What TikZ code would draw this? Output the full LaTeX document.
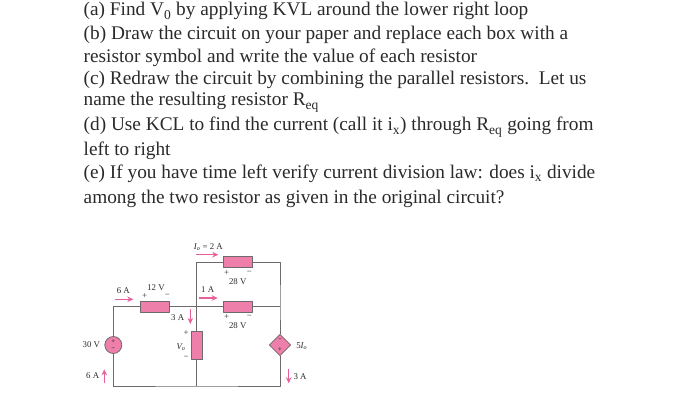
\documentclass[tikz,border=0pt]{standalone}
\usepackage{fontspec}
\setmainfont{Liberation Serif}
\usetikzlibrary{shapes.geometric,arrows.meta}
\definecolor{boxpink}{HTML}{EE7FAA}
\definecolor{arrowpink}{HTML}{E8609A}
\definecolor{wiregray}{HTML}{6E6A6C}
\definecolor{inkgray}{HTML}{2A2A2A}
\newcommand{\lowsub}[1]{\textsubscript{#1}}
\tikzset{
	questline/.style={anchor=base west,inner sep=0pt,text=inkgray,font=\fontsize{19.3}{20}\selectfont},
	resbox/.style={draw=wiregray,fill=boxpink,line width=.8pt,minimum width=29pt,minimum height=11pt,inner sep=0pt},
	resboxv/.style={draw=wiregray,fill=boxpink,line width=.8pt,minimum width=11pt,minimum height=28.5pt,inner sep=0pt},
	wire/.style={draw=wiregray,line width=.7pt},
	curarrow/.style={draw=arrowpink,line width=1.1pt,-{Stealth[length=6pt,width=5.5pt]}},
	lab/.style={inner sep=0pt,text=inkgray,font=\fontsize{8.8}{9}\selectfont},
	srcsign/.style={inner sep=0pt,text=inkgray,font=\fontsize{6.5}{7}\selectfont\bfseries}
}
\begin{document}
\begin{tikzpicture}[x=1pt,y=-1pt,line join=round]
	\useasboundingbox (0,0) rectangle (700,414);
	%% question text
	\node[questline] (qa) at (83.5,16) {(a) Find V\lowsub{0} by applying KVL around the lower right loop};
	\node[questline] (qb) at (83.5,40) {(b) Draw the circuit on your paper and replace each box with a};
	\node[questline] (qbb) at (83.5,63) {resistor symbol and write the value of each resistor};
	\node[questline] (qc) at (83.5,85) {(c) Redraw the circuit by combining the parallel resistors.\ \ Let us};
	\node[questline] (qcc) at (83.5,106) {name the resulting resistor R\lowsub{eq}};
	\node[questline] (qd) at (83.5,131) {(d) Use KCL to find the current (call it i\lowsub{x}) through R\lowsub{eq} going from};
	\node[questline] (qdd) at (83.5,156) {left to right};
	\node[questline] (qe) at (83.5,178) {(e) If you have time left verify current division law: does i\lowsub{x} divide};
	\node[questline] (qee) at (83.5,203) {among the two resistor as given in the original circuit?};
	%% junctions
	\coordinate (tl) at (196.7,262);
	\coordinate (tr) at (280,262);
	\coordinate (ml) at (113.3,306.7);
	\coordinate (mm) at (196.7,306.7);
	\coordinate (mr) at (280,306.7);
	\coordinate (bl) at (113.3,386);
	\coordinate (bm) at (196.7,386);
	\coordinate (br) at (280,386);
	%% elements
	\node[resbox] (Rleft) at (155,306.7) {};
	\node[resbox] (Rtop) at (238.2,262) {};
	\node[resbox] (Rmid) at (238.2,306.7) {};
	\node[resboxv] (Rvo) at (196.7,345.2) {};
	\node[circle,draw=wiregray,fill=boxpink,line width=.8pt,minimum size=17pt,inner sep=0pt] (src) at (113.3,345) {};
	\node[diamond,draw=wiregray,fill=boxpink,line width=.8pt,minimum size=21.5pt,inner sep=0pt] (dep) at (280,345) {};
	%% wires
	\draw[wire] (bl)--(src) (src)--(ml)--(Rleft) (Rleft)--(mm)--(Rmid) (Rmid)--(mr);
	\draw[wire] (tl)--(Rtop) (Rtop)--(tr)--(mr)--(dep) (dep)--(br)--(bm)--(bl);
	\draw[wire] (mm)--(tl) (mm)--(Rvo) (Rvo)--(bm);
	%% signs in sources
	\node[srcsign] (srcp) at (113.3,341.5) {+};
	\node[srcsign] (srcm) at (113.3,349) {−};
	\node[srcsign] (depm) at (280,340.5) {−};
	\node[srcsign] (depp) at (280,349.5) {+};
	%% current arrows
	\coordinate (aA) at (115,299.3);   \coordinate (aB) at (133.3,299.3);
	\coordinate (bA) at (196,254.7);   \coordinate (bB) at (218.3,254.7);
	\coordinate (cA) at (199.3,298);   \coordinate (cB) at (217.7,298);
	\coordinate (dA) at (190.3,309.3); \coordinate (dB) at (190.3,324);
	\coordinate (eA) at (104.3,383.3); \coordinate (eB) at (104.3,369.3);
	\coordinate (fA) at (288.7,368.7); \coordinate (fB) at (288.7,383.3);
	\draw[curarrow] (aA)--(aB);
	\draw[curarrow] (bA)--(bB);
	\draw[curarrow] (cA)--(cB);
	\draw[curarrow] (dA)--(dB);
	\draw[curarrow] (eA)--(eB);
	\draw[curarrow] (fA)--(fB);
	%% labels
	\node[lab] (l6a) at (123.3,291) {6 A};
	\node[lab] (l12) at (156,288) {12 V};
	\node[lab] (l12p) at (144.7,295.7) {+};
	\node[lab] (l12m) at (167.3,296) {−};
	\node[lab] (lio) at (208.3,247.3) {\textit{I\lowsub{o}} = 2 A};
	\node[lab] (l28a) at (237.7,281.3) {28 V};
	\node[lab] (l28ap) at (226.7,273.3) {+};
	\node[lab] (l28am) at (249.3,272.7) {−};
	\node[lab] (l1a) at (207.7,290) {1 A};
	\node[lab] (l28b) at (237.7,325.7) {28 V};
	\node[lab] (l28bp) at (226.7,317.3) {+};
	\node[lab] (l28bm) at (249.3,317.3) {−};
	\node[lab] (l3a) at (177.7,317.3) {3 A};
	\node[lab] (lvop) at (186,333.3) {+};
	\node[lab] (lvo) at (181,347.3) {\textit{V\lowsub{o}}};
	\node[lab] (lvom) at (186,358) {−};
	\node[lab] (l30) at (91.3,345) {30 V};
	\node[lab] (l6b) at (92.7,376) {6 A};
	\node[lab] (l5i) at (301.7,345.7) {5\textit{I\lowsub{o}}};
	\node[lab] (l3b) at (300,376.7) {3 A};
\end{tikzpicture}
\end{document}
